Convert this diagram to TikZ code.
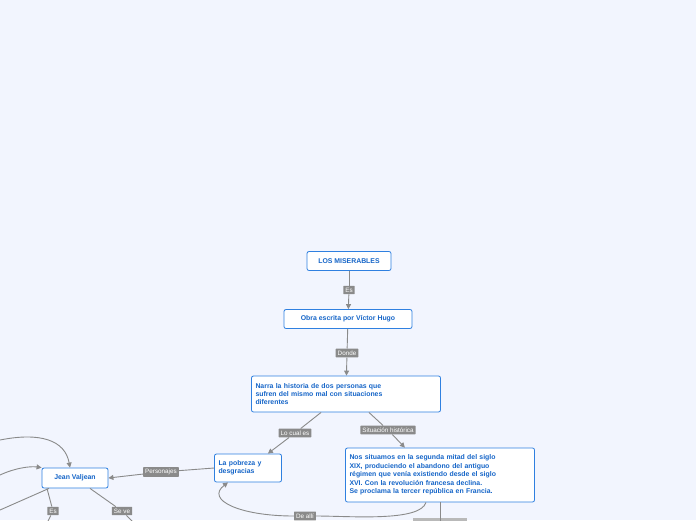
\documentclass[tikz,border=0pt]{standalone}
\usepackage{fontspec}
\setmainfont{Liberation Sans}
\usetikzlibrary{arrows.meta}
\definecolor{bg}{HTML}{F2F5FE}
\definecolor{bd}{HTML}{2F80E0}
\definecolor{tx}{HTML}{1565C8}
\definecolor{lb}{HTML}{8A8A8A}
\definecolor{ln}{HTML}{8A8A8A}
\tikzset{
 box/.style={draw=bd,fill=white,rounded corners=2pt,line width=0.8pt,text=tx,font=\fontsize{6.9}{8.4}\selectfont\bfseries,inner sep=4pt,align=left},
 lab/.style={fill=lb,text=white,font=\fontsize{6.3}{7}\selectfont,inner sep=2pt,rounded corners=0.5pt},
 con/.style={draw=ln,line width=0.9pt},
 arr/.style={con,-{Triangle[length=5pt,width=5pt]}}
}
\begin{document}
\begin{tikzpicture}[x=1pt,y=-1pt]
\fill[bg] (0,0) rectangle (696,520);
\useasboundingbox (0,0) rectangle (696,520);
\begin{scope}
\clip (0,0) rectangle (696,520);
\node[box,minimum width=84pt,minimum height=19pt,align=center] (los) at (349,261) {LOS MISERABLES};
\node[box,minimum width=128pt,minimum height=19pt,align=center] (obra) at (348,319) {Obra escrita por Víctor Hugo};
\node[box,text width=181pt,minimum height=36pt] (narra) at (346,394) {Narra la historia de dos personas que\\sufren del mismo mal con situaciones\\diferentes};
\node[box,text width=59pt,minimum height=28pt] (pob) at (248,468) {La pobreza y\\desgracias};
\node[box,text width=181pt,minimum height=54pt] (nos) at (440,475) {Nos situamos en la segunda mitad del siglo\\XIX, produciendo el abandono del antiguo\\régimen que venía existiendo desde el siglo\\XVI. Con la revolución francesa declina.\\Se proclama la tercer república en Francia.};
\node[box,minimum width=66pt,minimum height=20pt,align=center] (jean) at (75,478) {Jean Valjean};

\node[lab] (l1) at (349,290) {Es};
\node[lab] (l2) at (347,353) {Donde};
\node[lab] (l3) at (295,433) {Lo cual es};
\node[lab] (l4) at (388,430) {Situación histórica};
\node[lab] (l5) at (161,472) {Personajes};
\node[lab] (l6) at (53,511) {Es};
\node[lab] (l7) at (122,511) {Se ve};
\node[lab] (l8) at (305,516) {De allí};
\coordinate (b1) at (440,522);
\fill[lb!60] (413,518) rectangle (467,522);
\coordinate (c1) at (0,440);
\coordinate (c2) at (0,475);
\coordinate (c3) at (0,510);
\coordinate (c4) at (46,525);
\coordinate (c5) at (136,525);

\draw[con] (los) -- (l1); \draw[arr] (l1) -- (obra);
\draw[con] ([xshift=70pt]narra.south west) -- (l3); \draw[arr] (l3) -- ([xshift=-14pt]pob.north east);
\draw[con] ([xshift=-72pt]narra.south east) -- (l4); \draw[arr] (l4) -- ([xshift=-130pt]nos.north east);
\draw[con] (obra) -- (l2); \draw[arr] (l2) -- (narra);
\draw[con] (pob.west) -- (l5); \draw[arr] (l5) -- (jean.east);
\draw[con] ([xshift=-28pt]jean.south) -- (l6); \draw[con] (l6) -- (c4);
\draw[con] ([xshift=15pt]jean.south) -- (l7); \draw[con] (l7) -- (c5);
\draw[con] ([xshift=-14pt]nos.south) .. controls (420,522) and (350,516) .. (l8);
\draw[arr] (l8) .. controls (240,516) and (205,500) .. ([xshift=-20pt]pob.south);
\draw[con] (nos.south) -- (b1);
\draw[arr] (c1) .. controls (40,432) and (65,440) .. ([xshift=-5pt]jean.north);
\draw[arr] (c2) .. controls (15,468) and (30,466) .. (jean.north west);
\draw[con] (c3) -- ([xshift=-26pt]jean.south);
\end{scope}
\end{tikzpicture}
\end{document}
